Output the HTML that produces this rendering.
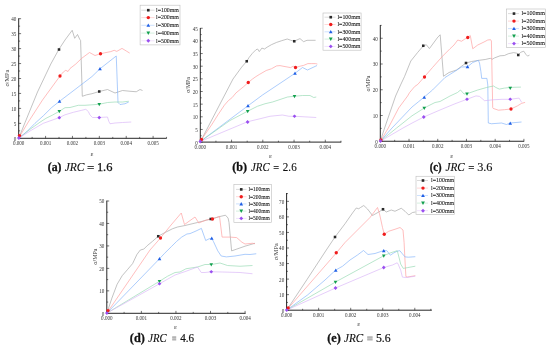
<!DOCTYPE html>
<html><head><meta charset="utf-8"><title>Stress-strain curves</title>
<style>
html,body{margin:0;padding:0;background:#fff;}
body{width:550px;height:348px;overflow:hidden;}
svg{display:block;filter:blur(0.35px);}
.tk{font-family:"Liberation Serif",serif;fill:#333;}
.yl{font-family:"Liberation Serif",serif;fill:#333;}
.lg{font-family:"Liberation Serif",serif;fill:#1a1a1a;stroke:#1a1a1a;stroke-width:0.1px;}
.cap{font-family:"Liberation Serif",serif;font-size:12.6px;fill:#111;}
</style></head>
<body>
<svg width="550" height="348" viewBox="0 0 550 348">
<rect width="550" height="348" fill="#fff"/>
<line x1="18.70" y1="18.30" x2="18.70" y2="138.70" stroke="#1a1a1a" stroke-width="0.95"/>
<line x1="18.25" y1="138.30" x2="166.70" y2="138.30" stroke="#1a1a1a" stroke-width="0.95"/>
<line x1="18.70" y1="138.30" x2="21.10" y2="138.30" stroke="#1a1a1a" stroke-width="0.6"/>
<text x="16.30" y="140.70" text-anchor="end" class="tk" font-size="5.9" textLength="2.55" lengthAdjust="spacingAndGlyphs">0</text>
<line x1="18.70" y1="130.83" x2="20.10" y2="130.83" stroke="#1a1a1a" stroke-width="0.6"/>
<line x1="18.70" y1="123.35" x2="21.10" y2="123.35" stroke="#1a1a1a" stroke-width="0.6"/>
<text x="16.30" y="125.75" text-anchor="end" class="tk" font-size="5.9" textLength="2.55" lengthAdjust="spacingAndGlyphs">5</text>
<line x1="18.70" y1="115.88" x2="20.10" y2="115.88" stroke="#1a1a1a" stroke-width="0.6"/>
<line x1="18.70" y1="108.40" x2="21.10" y2="108.40" stroke="#1a1a1a" stroke-width="0.6"/>
<text x="16.30" y="110.80" text-anchor="end" class="tk" font-size="5.9" textLength="5.10" lengthAdjust="spacingAndGlyphs">10</text>
<line x1="18.70" y1="100.93" x2="20.10" y2="100.93" stroke="#1a1a1a" stroke-width="0.6"/>
<line x1="18.70" y1="93.45" x2="21.10" y2="93.45" stroke="#1a1a1a" stroke-width="0.6"/>
<text x="16.30" y="95.85" text-anchor="end" class="tk" font-size="5.9" textLength="5.10" lengthAdjust="spacingAndGlyphs">15</text>
<line x1="18.70" y1="85.98" x2="20.10" y2="85.98" stroke="#1a1a1a" stroke-width="0.6"/>
<line x1="18.70" y1="78.50" x2="21.10" y2="78.50" stroke="#1a1a1a" stroke-width="0.6"/>
<text x="16.30" y="80.90" text-anchor="end" class="tk" font-size="5.9" textLength="5.10" lengthAdjust="spacingAndGlyphs">20</text>
<line x1="18.70" y1="71.03" x2="20.10" y2="71.03" stroke="#1a1a1a" stroke-width="0.6"/>
<line x1="18.70" y1="63.55" x2="21.10" y2="63.55" stroke="#1a1a1a" stroke-width="0.6"/>
<text x="16.30" y="65.95" text-anchor="end" class="tk" font-size="5.9" textLength="5.10" lengthAdjust="spacingAndGlyphs">25</text>
<line x1="18.70" y1="56.08" x2="20.10" y2="56.08" stroke="#1a1a1a" stroke-width="0.6"/>
<line x1="18.70" y1="48.60" x2="21.10" y2="48.60" stroke="#1a1a1a" stroke-width="0.6"/>
<text x="16.30" y="51.00" text-anchor="end" class="tk" font-size="5.9" textLength="5.10" lengthAdjust="spacingAndGlyphs">30</text>
<line x1="18.70" y1="41.12" x2="20.10" y2="41.12" stroke="#1a1a1a" stroke-width="0.6"/>
<line x1="18.70" y1="33.65" x2="21.10" y2="33.65" stroke="#1a1a1a" stroke-width="0.6"/>
<text x="16.30" y="36.05" text-anchor="end" class="tk" font-size="5.9" textLength="5.10" lengthAdjust="spacingAndGlyphs">35</text>
<line x1="18.70" y1="26.17" x2="20.10" y2="26.17" stroke="#1a1a1a" stroke-width="0.6"/>
<line x1="18.70" y1="18.70" x2="21.10" y2="18.70" stroke="#1a1a1a" stroke-width="0.6"/>
<text x="16.30" y="21.10" text-anchor="end" class="tk" font-size="5.9" textLength="5.10" lengthAdjust="spacingAndGlyphs">40</text>
<line x1="18.70" y1="138.30" x2="18.70" y2="135.90" stroke="#1a1a1a" stroke-width="0.6"/>
<text x="13.00" y="145.30" class="tk" font-size="5.90" textLength="11.4" lengthAdjust="spacingAndGlyphs">0.000</text>
<line x1="32.14" y1="138.30" x2="32.14" y2="136.90" stroke="#1a1a1a" stroke-width="0.6"/>
<line x1="45.58" y1="138.30" x2="45.58" y2="135.90" stroke="#1a1a1a" stroke-width="0.6"/>
<text x="39.88" y="145.30" class="tk" font-size="5.90" textLength="11.4" lengthAdjust="spacingAndGlyphs">0.001</text>
<line x1="59.02" y1="138.30" x2="59.02" y2="136.90" stroke="#1a1a1a" stroke-width="0.6"/>
<line x1="72.46" y1="138.30" x2="72.46" y2="135.90" stroke="#1a1a1a" stroke-width="0.6"/>
<text x="66.76" y="145.30" class="tk" font-size="5.90" textLength="11.4" lengthAdjust="spacingAndGlyphs">0.002</text>
<line x1="85.90" y1="138.30" x2="85.90" y2="136.90" stroke="#1a1a1a" stroke-width="0.6"/>
<line x1="99.34" y1="138.30" x2="99.34" y2="135.90" stroke="#1a1a1a" stroke-width="0.6"/>
<text x="93.64" y="145.30" class="tk" font-size="5.90" textLength="11.4" lengthAdjust="spacingAndGlyphs">0.003</text>
<line x1="112.78" y1="138.30" x2="112.78" y2="136.90" stroke="#1a1a1a" stroke-width="0.6"/>
<line x1="126.22" y1="138.30" x2="126.22" y2="135.90" stroke="#1a1a1a" stroke-width="0.6"/>
<text x="120.52" y="145.30" class="tk" font-size="5.90" textLength="11.4" lengthAdjust="spacingAndGlyphs">0.004</text>
<line x1="139.66" y1="138.30" x2="139.66" y2="136.90" stroke="#1a1a1a" stroke-width="0.6"/>
<line x1="153.10" y1="138.30" x2="153.10" y2="135.90" stroke="#1a1a1a" stroke-width="0.6"/>
<text x="147.40" y="145.30" class="tk" font-size="5.90" textLength="11.4" lengthAdjust="spacingAndGlyphs">0.005</text>
<line x1="166.54" y1="138.30" x2="166.54" y2="136.90" stroke="#1a1a1a" stroke-width="0.6"/>
<text transform="translate(8.50,78.10) rotate(-90)" x="-8.50" class="yl" font-size="6.2" textLength="17.00" lengthAdjust="spacingAndGlyphs">σ/MPa</text>
<text x="92.00" y="155.70" text-anchor="middle" class="tk" font-size="6.8">ε</text>
<polyline points="18.70,138.30 25.00,122.60 37.50,92.00 50.80,64.00 58.80,49.50 65.00,40.00 72.20,30.30 74.70,38.30 77.50,34.50 79.70,39.20 80.60,40.50 82.30,96.30 86.70,94.80 92.00,93.70 99.25,91.50 107.50,89.50 115.00,93.00 122.50,90.50 130.00,91.25 136.25,91.75 140.00,89.50 142.50,90.50" fill="none" stroke="#a2a2a2" stroke-width="0.65" stroke-linejoin="round"/>
<polyline points="19.70,136.30 28.30,122.00 42.50,100.00 60.00,76.00 63.30,72.00 65.80,70.30 68.00,71.50 70.00,68.50 75.80,64.00 81.70,58.30 89.50,52.50 95.00,55.50 100.50,53.75 104.70,52.80 110.80,51.60 114.20,50.30 116.80,51.40 122.00,48.40 126.30,51.00 129.70,53.10" fill="none" stroke="#ff9a9a" stroke-width="0.65" stroke-linejoin="round"/>
<polyline points="19.00,138.00 26.70,131.70 35.00,123.30 43.30,115.80 51.70,107.50 59.50,101.30 75.00,89.50 92.00,76.50 100.00,68.75 116.25,56.00 118.00,102.50 120.00,104.50 125.00,103.75 128.75,102.00" fill="none" stroke="#80b2fa" stroke-width="0.65" stroke-linejoin="round"/>
<polyline points="19.00,138.00 30.00,129.30 40.00,122.20 46.00,118.30 52.30,115.20 59.50,111.20 65.00,107.70 70.00,107.50 78.30,105.30 85.00,105.30 92.00,104.80 99.25,104.25 107.50,102.50 115.00,102.00 122.50,102.00 128.75,101.25" fill="none" stroke="#93d9b0" stroke-width="0.65" stroke-linejoin="round"/>
<polyline points="19.00,138.00 31.70,130.00 43.30,123.30 59.50,117.50 65.00,114.80 73.30,112.30 81.70,110.30 85.80,109.30 88.30,111.50 90.00,115.00 92.50,117.50 99.25,117.50 107.50,117.00 108.75,121.25 110.00,123.75 115.00,123.00 122.50,122.50 131.25,122.00" fill="none" stroke="#d8b4f7" stroke-width="0.65" stroke-linejoin="round"/>
<rect x="57.73" y="48.23" width="2.55" height="2.55" fill="#2a2a2a"/>
<rect x="97.97" y="90.22" width="2.55" height="2.55" fill="#2a2a2a"/>
<circle cx="19.50" cy="135.60" r="1.65" fill="#f01c1c"/>
<circle cx="60.00" cy="76.00" r="1.65" fill="#f01c1c"/>
<circle cx="100.50" cy="53.75" r="1.65" fill="#f01c1c"/>
<polygon points="59.50,99.50 61.30,102.74 57.70,102.74" fill="#1f5fe6"/>
<polygon points="100.00,67.10 101.80,70.34 98.20,70.34" fill="#1f5fe6"/>
<polygon points="59.30,113.20 61.10,109.96 57.50,109.96" fill="#12a04e"/>
<polygon points="99.25,106.20 101.05,102.96 97.45,102.96" fill="#12a04e"/>
<polygon points="18.90,136.12 20.77,138.00 18.90,139.88 17.02,138.00" fill="#9a4ff0"/>
<polygon points="59.30,115.83 61.17,117.70 59.30,119.58 57.42,117.70" fill="#9a4ff0"/>
<polygon points="99.25,115.72 101.12,117.60 99.25,119.47 97.38,117.60" fill="#9a4ff0"/>
<rect x="140.10" y="5.20" width="39.90" height="39.70" fill="#fff" stroke="#bdbdbd" stroke-width="0.6"/>
<line x1="141.30" y1="10.20" x2="154.50" y2="10.20" stroke="#a2a2a2" stroke-width="0.65" stroke-opacity="0.6"/>
<rect x="146.98" y="8.88" width="2.63" height="2.63" fill="#2a2a2a"/>
<text x="156.00" y="12.00" class="lg" font-size="6.5" textLength="22.90" lengthAdjust="spacingAndGlyphs">l=100mm</text>
<line x1="141.30" y1="17.60" x2="154.50" y2="17.60" stroke="#ff9a9a" stroke-width="0.65" stroke-opacity="0.6"/>
<circle cx="148.30" cy="17.60" r="1.71" fill="#f01c1c"/>
<text x="156.00" y="19.40" class="lg" font-size="6.5" textLength="22.90" lengthAdjust="spacingAndGlyphs">l=200mm</text>
<line x1="141.30" y1="25.30" x2="154.50" y2="25.30" stroke="#80b2fa" stroke-width="0.65" stroke-opacity="0.6"/>
<polygon points="148.30,23.44 150.16,26.79 146.44,26.79" fill="#1f5fe6"/>
<text x="156.00" y="27.10" class="lg" font-size="6.5" textLength="22.90" lengthAdjust="spacingAndGlyphs">l=300mm</text>
<line x1="141.30" y1="33.10" x2="154.50" y2="33.10" stroke="#93d9b0" stroke-width="0.65" stroke-opacity="0.6"/>
<polygon points="148.30,34.96 150.16,31.61 146.44,31.61" fill="#12a04e"/>
<text x="156.00" y="34.90" class="lg" font-size="6.5" textLength="22.90" lengthAdjust="spacingAndGlyphs">l=400mm</text>
<line x1="141.30" y1="40.80" x2="154.50" y2="40.80" stroke="#d8b4f7" stroke-width="0.65" stroke-opacity="0.6"/>
<polygon points="148.30,38.86 150.24,40.80 148.30,42.74 146.36,40.80" fill="#9a4ff0"/>
<text x="156.00" y="42.60" class="lg" font-size="6.5" textLength="22.90" lengthAdjust="spacingAndGlyphs">l=500mm</text>
<text x="47.82" y="171.10" class="cap" font-weight="bold" style="fill:#111;stroke:#111;stroke-width:0.30px" textLength="13.68" lengthAdjust="spacingAndGlyphs">(a)</text>
<text x="64.66" y="171.10" class="cap" font-style="italic" style="fill:#111;stroke:#111;stroke-width:0.15px" textLength="19.82" lengthAdjust="spacingAndGlyphs">JRC</text>
<text x="87.14" y="171.90" class="cap"  style="fill:#111;stroke:#111;stroke-width:0.15px" textLength="7.38" lengthAdjust="spacingAndGlyphs">=</text>
<text x="96.90" y="171.10" class="cap"  style="fill:#111;stroke:#111;stroke-width:0.25px" textLength="15.58" lengthAdjust="spacingAndGlyphs">1.6</text>
<line x1="200.30" y1="28.00" x2="200.30" y2="142.50" stroke="#1a1a1a" stroke-width="0.95"/>
<line x1="199.85" y1="142.10" x2="341.30" y2="142.10" stroke="#1a1a1a" stroke-width="0.95"/>
<line x1="200.30" y1="142.10" x2="202.70" y2="142.10" stroke="#1a1a1a" stroke-width="0.6"/>
<text x="197.90" y="144.50" text-anchor="end" class="tk" font-size="5.9" textLength="2.55" lengthAdjust="spacingAndGlyphs">0</text>
<line x1="200.30" y1="135.78" x2="201.70" y2="135.78" stroke="#1a1a1a" stroke-width="0.6"/>
<line x1="200.30" y1="129.45" x2="202.70" y2="129.45" stroke="#1a1a1a" stroke-width="0.6"/>
<text x="197.90" y="131.85" text-anchor="end" class="tk" font-size="5.9" textLength="2.55" lengthAdjust="spacingAndGlyphs">5</text>
<line x1="200.30" y1="123.12" x2="201.70" y2="123.12" stroke="#1a1a1a" stroke-width="0.6"/>
<line x1="200.30" y1="116.80" x2="202.70" y2="116.80" stroke="#1a1a1a" stroke-width="0.6"/>
<text x="197.90" y="119.20" text-anchor="end" class="tk" font-size="5.9" textLength="5.10" lengthAdjust="spacingAndGlyphs">10</text>
<line x1="200.30" y1="110.47" x2="201.70" y2="110.47" stroke="#1a1a1a" stroke-width="0.6"/>
<line x1="200.30" y1="104.15" x2="202.70" y2="104.15" stroke="#1a1a1a" stroke-width="0.6"/>
<text x="197.90" y="106.55" text-anchor="end" class="tk" font-size="5.9" textLength="5.10" lengthAdjust="spacingAndGlyphs">15</text>
<line x1="200.30" y1="97.82" x2="201.70" y2="97.82" stroke="#1a1a1a" stroke-width="0.6"/>
<line x1="200.30" y1="91.50" x2="202.70" y2="91.50" stroke="#1a1a1a" stroke-width="0.6"/>
<text x="197.90" y="93.90" text-anchor="end" class="tk" font-size="5.9" textLength="5.10" lengthAdjust="spacingAndGlyphs">20</text>
<line x1="200.30" y1="85.17" x2="201.70" y2="85.17" stroke="#1a1a1a" stroke-width="0.6"/>
<line x1="200.30" y1="78.85" x2="202.70" y2="78.85" stroke="#1a1a1a" stroke-width="0.6"/>
<text x="197.90" y="81.25" text-anchor="end" class="tk" font-size="5.9" textLength="5.10" lengthAdjust="spacingAndGlyphs">25</text>
<line x1="200.30" y1="72.53" x2="201.70" y2="72.53" stroke="#1a1a1a" stroke-width="0.6"/>
<line x1="200.30" y1="66.20" x2="202.70" y2="66.20" stroke="#1a1a1a" stroke-width="0.6"/>
<text x="197.90" y="68.60" text-anchor="end" class="tk" font-size="5.9" textLength="5.10" lengthAdjust="spacingAndGlyphs">30</text>
<line x1="200.30" y1="59.88" x2="201.70" y2="59.88" stroke="#1a1a1a" stroke-width="0.6"/>
<line x1="200.30" y1="53.55" x2="202.70" y2="53.55" stroke="#1a1a1a" stroke-width="0.6"/>
<text x="197.90" y="55.95" text-anchor="end" class="tk" font-size="5.9" textLength="5.10" lengthAdjust="spacingAndGlyphs">35</text>
<line x1="200.30" y1="47.23" x2="201.70" y2="47.23" stroke="#1a1a1a" stroke-width="0.6"/>
<line x1="200.30" y1="40.90" x2="202.70" y2="40.90" stroke="#1a1a1a" stroke-width="0.6"/>
<text x="197.90" y="43.30" text-anchor="end" class="tk" font-size="5.9" textLength="5.10" lengthAdjust="spacingAndGlyphs">40</text>
<line x1="200.30" y1="34.58" x2="201.70" y2="34.58" stroke="#1a1a1a" stroke-width="0.6"/>
<line x1="200.30" y1="28.25" x2="202.70" y2="28.25" stroke="#1a1a1a" stroke-width="0.6"/>
<text x="197.90" y="30.65" text-anchor="end" class="tk" font-size="5.9" textLength="5.10" lengthAdjust="spacingAndGlyphs">45</text>
<line x1="200.30" y1="142.10" x2="200.30" y2="139.70" stroke="#1a1a1a" stroke-width="0.6"/>
<text x="194.60" y="148.60" class="tk" font-size="5.90" textLength="11.4" lengthAdjust="spacingAndGlyphs">0.000</text>
<line x1="215.93" y1="142.10" x2="215.93" y2="140.70" stroke="#1a1a1a" stroke-width="0.6"/>
<line x1="231.55" y1="142.10" x2="231.55" y2="139.70" stroke="#1a1a1a" stroke-width="0.6"/>
<text x="225.85" y="148.60" class="tk" font-size="5.90" textLength="11.4" lengthAdjust="spacingAndGlyphs">0.001</text>
<line x1="247.18" y1="142.10" x2="247.18" y2="140.70" stroke="#1a1a1a" stroke-width="0.6"/>
<line x1="262.80" y1="142.10" x2="262.80" y2="139.70" stroke="#1a1a1a" stroke-width="0.6"/>
<text x="257.10" y="148.60" class="tk" font-size="5.90" textLength="11.4" lengthAdjust="spacingAndGlyphs">0.002</text>
<line x1="278.43" y1="142.10" x2="278.43" y2="140.70" stroke="#1a1a1a" stroke-width="0.6"/>
<line x1="294.05" y1="142.10" x2="294.05" y2="139.70" stroke="#1a1a1a" stroke-width="0.6"/>
<text x="288.35" y="148.60" class="tk" font-size="5.90" textLength="11.4" lengthAdjust="spacingAndGlyphs">0.003</text>
<line x1="309.68" y1="142.10" x2="309.68" y2="140.70" stroke="#1a1a1a" stroke-width="0.6"/>
<line x1="325.30" y1="142.10" x2="325.30" y2="139.70" stroke="#1a1a1a" stroke-width="0.6"/>
<text x="319.60" y="148.60" class="tk" font-size="5.90" textLength="11.4" lengthAdjust="spacingAndGlyphs">0.004</text>
<line x1="340.93" y1="142.10" x2="340.93" y2="140.70" stroke="#1a1a1a" stroke-width="0.6"/>
<text transform="translate(189.70,85.00) rotate(-90)" x="-7.75" class="yl" font-size="6.2" textLength="15.50" lengthAdjust="spacingAndGlyphs">σ/MPa</text>
<text x="270.50" y="158.20" text-anchor="middle" class="tk" font-size="6.8">ε</text>
<polyline points="200.30,141.90 233.00,79.00 241.70,67.10 246.75,61.25 249.00,57.60 252.40,53.30 255.90,49.80 257.60,49.00 259.30,51.60 261.90,48.10 264.50,49.00 267.10,47.20 271.40,44.70 276.60,42.40 281.70,40.70 287.20,39.00 290.60,40.20 294.00,41.25 300.00,38.60 303.60,41.70 307.00,40.30 315.60,40.30" fill="none" stroke="#a2a2a2" stroke-width="0.65" stroke-linejoin="round"/>
<polyline points="200.80,140.50 211.50,125.00 217.90,114.90 224.40,105.20 228.30,100.70 232.20,97.50 236.00,92.90 239.90,89.70 243.80,86.50 248.25,82.50 252.40,79.10 255.90,76.60 259.30,74.50 266.20,70.50 271.40,68.80 276.60,65.90 280.00,65.60 284.00,66.40 290.70,67.60 293.20,66.20 295.50,67.40 300.10,66.20 303.60,65.40 307.90,63.60 311.30,63.60 315.60,63.60 317.40,64.10" fill="none" stroke="#ff9a9a" stroke-width="0.65" stroke-linejoin="round"/>
<polyline points="200.30,141.50 248.00,105.75 262.50,95.00 285.00,80.00 295.00,73.25 302.50,67.50 307.50,70.00 317.00,65.50" fill="none" stroke="#80b2fa" stroke-width="0.65" stroke-linejoin="round"/>
<polyline points="200.30,141.50 230.00,120.50 247.50,111.25 257.50,106.25 265.00,103.75 272.50,102.00 280.00,99.50 287.50,97.00 294.50,96.25 302.50,95.50 310.00,95.50 313.75,97.50 316.25,97.00" fill="none" stroke="#93d9b0" stroke-width="0.65" stroke-linejoin="round"/>
<polyline points="200.30,141.50 247.50,121.75 260.00,118.75 270.00,116.25 282.50,115.00 288.75,116.25 294.50,116.25 316.25,117.50" fill="none" stroke="#d8b4f7" stroke-width="0.65" stroke-linejoin="round"/>
<rect x="245.47" y="59.98" width="2.55" height="2.55" fill="#2a2a2a"/>
<rect x="292.98" y="39.98" width="2.55" height="2.55" fill="#2a2a2a"/>
<circle cx="201.50" cy="139.40" r="1.65" fill="#f01c1c"/>
<circle cx="248.25" cy="82.50" r="1.65" fill="#f01c1c"/>
<circle cx="295.50" cy="67.50" r="1.65" fill="#f01c1c"/>
<polygon points="248.00,104.10 249.80,107.34 246.20,107.34" fill="#1f5fe6"/>
<polygon points="295.00,71.60 296.80,74.84 293.20,74.84" fill="#1f5fe6"/>
<polygon points="247.70,113.20 249.50,109.96 245.90,109.96" fill="#12a04e"/>
<polygon points="294.50,98.20 296.30,94.96 292.70,94.96" fill="#12a04e"/>
<polygon points="200.30,139.62 202.18,141.50 200.30,143.38 198.43,141.50" fill="#9a4ff0"/>
<polygon points="247.60,120.12 249.47,122.00 247.60,123.88 245.72,122.00" fill="#9a4ff0"/>
<polygon points="294.50,114.38 296.38,116.25 294.50,118.12 292.62,116.25" fill="#9a4ff0"/>
<rect x="323.00" y="13.00" width="38.10" height="37.20" fill="#fff" stroke="#bdbdbd" stroke-width="0.6"/>
<line x1="324.50" y1="17.20" x2="335.50" y2="17.20" stroke="#a2a2a2" stroke-width="0.65" stroke-opacity="0.6"/>
<rect x="329.43" y="15.88" width="2.63" height="2.63" fill="#2a2a2a"/>
<text x="337.40" y="19.00" class="lg" font-size="6.5" textLength="23.10" lengthAdjust="spacingAndGlyphs">l=100mm</text>
<line x1="324.50" y1="24.50" x2="335.50" y2="24.50" stroke="#ff9a9a" stroke-width="0.65" stroke-opacity="0.6"/>
<circle cx="330.75" cy="24.50" r="1.71" fill="#f01c1c"/>
<text x="337.40" y="26.30" class="lg" font-size="6.5" textLength="23.10" lengthAdjust="spacingAndGlyphs">l=200mm</text>
<line x1="324.50" y1="31.80" x2="335.50" y2="31.80" stroke="#80b2fa" stroke-width="0.65" stroke-opacity="0.6"/>
<polygon points="330.75,29.94 332.61,33.29 328.89,33.29" fill="#1f5fe6"/>
<text x="337.40" y="33.60" class="lg" font-size="6.5" textLength="23.10" lengthAdjust="spacingAndGlyphs">l=300mm</text>
<line x1="324.50" y1="39.10" x2="335.50" y2="39.10" stroke="#93d9b0" stroke-width="0.65" stroke-opacity="0.6"/>
<polygon points="330.75,40.96 332.61,37.61 328.89,37.61" fill="#12a04e"/>
<text x="337.40" y="40.90" class="lg" font-size="6.5" textLength="23.10" lengthAdjust="spacingAndGlyphs">l=400mm</text>
<line x1="324.50" y1="46.40" x2="335.50" y2="46.40" stroke="#d8b4f7" stroke-width="0.65" stroke-opacity="0.6"/>
<polygon points="330.75,44.46 332.69,46.40 330.75,48.34 328.81,46.40" fill="#9a4ff0"/>
<text x="337.40" y="48.20" class="lg" font-size="6.5" textLength="23.10" lengthAdjust="spacingAndGlyphs">l=500mm</text>
<text x="232.16" y="171.20" class="cap" font-weight="bold" style="fill:#111;stroke:#111;stroke-width:0.30px" textLength="14.84" lengthAdjust="spacingAndGlyphs">(b)</text>
<text x="251.02" y="171.20" class="cap" font-style="italic" style="fill:#111;stroke:#111;stroke-width:0.15px" textLength="18.62" lengthAdjust="spacingAndGlyphs">JRC</text>
<text x="273.34" y="172.00" class="cap"  style="fill:#111;stroke:#111;stroke-width:0.15px" textLength="5.84" lengthAdjust="spacingAndGlyphs">=</text>
<text x="282.84" y="171.20" class="cap"  style="fill:#111;stroke:#111;stroke-width:0.15px" textLength="13.84" lengthAdjust="spacingAndGlyphs">2.6</text>
<line x1="380.30" y1="25.00" x2="380.30" y2="141.65" stroke="#1a1a1a" stroke-width="0.95"/>
<line x1="379.85" y1="141.25" x2="524.20" y2="141.25" stroke="#1a1a1a" stroke-width="0.95"/>
<line x1="380.30" y1="141.25" x2="382.70" y2="141.25" stroke="#1a1a1a" stroke-width="0.6"/>
<text x="377.90" y="143.65" text-anchor="end" class="tk" font-size="5.9" textLength="2.55" lengthAdjust="spacingAndGlyphs">0</text>
<line x1="380.30" y1="128.38" x2="381.70" y2="128.38" stroke="#1a1a1a" stroke-width="0.6"/>
<line x1="380.30" y1="115.50" x2="382.70" y2="115.50" stroke="#1a1a1a" stroke-width="0.6"/>
<text x="377.90" y="117.90" text-anchor="end" class="tk" font-size="5.9" textLength="5.10" lengthAdjust="spacingAndGlyphs">10</text>
<line x1="380.30" y1="102.62" x2="381.70" y2="102.62" stroke="#1a1a1a" stroke-width="0.6"/>
<line x1="380.30" y1="89.75" x2="382.70" y2="89.75" stroke="#1a1a1a" stroke-width="0.6"/>
<text x="377.90" y="92.15" text-anchor="end" class="tk" font-size="5.9" textLength="5.10" lengthAdjust="spacingAndGlyphs">20</text>
<line x1="380.30" y1="76.88" x2="381.70" y2="76.88" stroke="#1a1a1a" stroke-width="0.6"/>
<line x1="380.30" y1="64.00" x2="382.70" y2="64.00" stroke="#1a1a1a" stroke-width="0.6"/>
<text x="377.90" y="66.40" text-anchor="end" class="tk" font-size="5.9" textLength="5.10" lengthAdjust="spacingAndGlyphs">30</text>
<line x1="380.30" y1="51.12" x2="381.70" y2="51.12" stroke="#1a1a1a" stroke-width="0.6"/>
<line x1="380.30" y1="38.25" x2="382.70" y2="38.25" stroke="#1a1a1a" stroke-width="0.6"/>
<text x="377.90" y="40.65" text-anchor="end" class="tk" font-size="5.9" textLength="5.10" lengthAdjust="spacingAndGlyphs">40</text>
<line x1="380.30" y1="25.37" x2="381.70" y2="25.37" stroke="#1a1a1a" stroke-width="0.6"/>
<line x1="380.30" y1="141.25" x2="380.30" y2="138.85" stroke="#1a1a1a" stroke-width="0.6"/>
<text x="374.60" y="148.10" class="tk" font-size="5.90" textLength="11.4" lengthAdjust="spacingAndGlyphs">0.000</text>
<line x1="394.66" y1="141.25" x2="394.66" y2="139.85" stroke="#1a1a1a" stroke-width="0.6"/>
<line x1="409.02" y1="141.25" x2="409.02" y2="138.85" stroke="#1a1a1a" stroke-width="0.6"/>
<text x="403.32" y="148.10" class="tk" font-size="5.90" textLength="11.4" lengthAdjust="spacingAndGlyphs">0.001</text>
<line x1="423.38" y1="141.25" x2="423.38" y2="139.85" stroke="#1a1a1a" stroke-width="0.6"/>
<line x1="437.74" y1="141.25" x2="437.74" y2="138.85" stroke="#1a1a1a" stroke-width="0.6"/>
<text x="432.04" y="148.10" class="tk" font-size="5.90" textLength="11.4" lengthAdjust="spacingAndGlyphs">0.002</text>
<line x1="452.10" y1="141.25" x2="452.10" y2="139.85" stroke="#1a1a1a" stroke-width="0.6"/>
<line x1="466.46" y1="141.25" x2="466.46" y2="138.85" stroke="#1a1a1a" stroke-width="0.6"/>
<text x="460.76" y="148.10" class="tk" font-size="5.90" textLength="11.4" lengthAdjust="spacingAndGlyphs">0.003</text>
<line x1="480.82" y1="141.25" x2="480.82" y2="139.85" stroke="#1a1a1a" stroke-width="0.6"/>
<line x1="495.18" y1="141.25" x2="495.18" y2="138.85" stroke="#1a1a1a" stroke-width="0.6"/>
<text x="489.48" y="148.10" class="tk" font-size="5.90" textLength="11.4" lengthAdjust="spacingAndGlyphs">0.004</text>
<line x1="509.54" y1="141.25" x2="509.54" y2="139.85" stroke="#1a1a1a" stroke-width="0.6"/>
<line x1="523.90" y1="141.25" x2="523.90" y2="138.85" stroke="#1a1a1a" stroke-width="0.6"/>
<text x="518.20" y="148.10" class="tk" font-size="5.90" textLength="11.4" lengthAdjust="spacingAndGlyphs">0.005</text>
<text transform="translate(370.20,83.50) rotate(-90)" x="-8.00" class="yl" font-size="6.2" textLength="16.00" lengthAdjust="spacingAndGlyphs">σ/MPa</text>
<text x="451.80" y="158.00" text-anchor="middle" class="tk" font-size="6.8">ε</text>
<polyline points="380.30,141.25 384.60,128.00 395.60,96.00 401.00,84.00 404.50,76.60 410.80,61.00 417.70,52.40 423.20,46.00 426.30,44.70 429.40,48.60 438.00,36.90 440.20,34.80 443.50,76.25 449.00,72.50 456.50,70.00 461.50,66.25 466.00,63.00 471.50,61.50 479.00,60.30 485.20,59.50 490.30,58.30 492.30,59.20 494.30,58.00 500.00,55.80 504.40,55.50 508.70,53.60 513.70,52.60 516.60,53.20 518.30,54.70 520.90,52.20 523.80,51.20 525.90,54.40 527.60,56.10 529.50,55.10" fill="none" stroke="#a2a2a2" stroke-width="0.65" stroke-linejoin="round"/>
<polyline points="380.30,141.25 388.30,128.00 398.70,108.00 407.60,96.00 409.50,92.70 414.70,86.50 417.80,84.40 424.50,76.70 428.60,72.00 432.50,67.50 442.50,56.25 450.00,48.75 454.00,45.00 457.75,40.00 461.50,41.25 465.25,38.75 467.75,37.50 470.25,35.50 472.75,48.75 477.75,45.00 484.00,42.00 487.75,40.00 490.60,39.70 491.40,41.00 492.70,107.60 493.20,108.40 498.40,110.20 504.40,109.70 511.00,109.00 517.40,105.90 521.70,103.30 525.10,102.40" fill="none" stroke="#ff9a9a" stroke-width="0.65" stroke-linejoin="round"/>
<polyline points="380.30,141.25 392.00,128.00 412.00,107.00 418.80,101.50 424.25,97.00 432.50,90.00 442.50,80.00 445.00,77.50 455.00,71.25 461.50,67.00 467.50,66.75 472.75,62.50 478.30,60.30 479.50,63.00 480.90,71.60 481.70,78.40 486.90,78.40 487.80,85.00 488.30,123.00 491.50,123.75 501.50,123.00 506.50,124.50 510.25,123.00 521.50,122.00" fill="none" stroke="#80b2fa" stroke-width="0.65" stroke-linejoin="round"/>
<polyline points="380.30,141.25 396.60,128.00 412.00,115.80 424.25,108.00 430.00,105.00 435.00,102.50 440.00,101.50 450.00,96.00 457.50,92.50 460.50,90.00 464.00,94.00 467.00,93.75 477.75,90.00 486.50,87.50 490.00,86.70 493.60,86.00 495.70,87.40 499.30,89.10 504.40,88.10 510.50,87.40 520.90,87.10" fill="none" stroke="#93d9b0" stroke-width="0.65" stroke-linejoin="round"/>
<polyline points="380.30,141.25 403.00,128.00 412.00,123.10 423.75,117.00 440.00,110.00 455.00,103.75 467.00,99.25 476.00,95.90 479.50,96.40 484.60,100.70 493.20,99.80 502.00,99.30 510.00,99.30 519.10,98.10 521.70,102.40" fill="none" stroke="#d8b4f7" stroke-width="0.65" stroke-linejoin="round"/>
<rect x="421.98" y="44.48" width="2.55" height="2.55" fill="#2a2a2a"/>
<rect x="464.73" y="61.73" width="2.55" height="2.55" fill="#2a2a2a"/>
<rect x="516.98" y="53.73" width="2.55" height="2.55" fill="#2a2a2a"/>
<circle cx="381.00" cy="140.00" r="1.65" fill="#f01c1c"/>
<circle cx="424.50" cy="77.00" r="1.65" fill="#f01c1c"/>
<circle cx="467.75" cy="37.50" r="1.65" fill="#f01c1c"/>
<circle cx="511.00" cy="109.00" r="1.65" fill="#f01c1c"/>
<polygon points="424.25,95.40 426.05,98.64 422.45,98.64" fill="#1f5fe6"/>
<polygon points="467.50,65.10 469.30,68.34 465.70,68.34" fill="#1f5fe6"/>
<polygon points="510.25,121.40 512.05,124.64 508.45,124.64" fill="#1f5fe6"/>
<polygon points="424.25,110.00 426.05,106.76 422.45,106.76" fill="#12a04e"/>
<polygon points="467.00,95.70 468.80,92.46 465.20,92.46" fill="#12a04e"/>
<polygon points="510.25,90.00 512.05,86.76 508.45,86.76" fill="#12a04e"/>
<polygon points="380.50,139.12 382.38,141.00 380.50,142.88 378.62,141.00" fill="#9a4ff0"/>
<polygon points="423.75,115.12 425.62,117.00 423.75,118.88 421.88,117.00" fill="#9a4ff0"/>
<polygon points="467.00,97.38 468.88,99.25 467.00,101.12 465.12,99.25" fill="#9a4ff0"/>
<polygon points="510.25,97.38 512.12,99.25 510.25,101.12 508.38,99.25" fill="#9a4ff0"/>
<rect x="506.50" y="9.00" width="39.00" height="38.40" fill="#fff" stroke="#bdbdbd" stroke-width="0.6"/>
<line x1="508.00" y1="13.60" x2="519.00" y2="13.60" stroke="#a2a2a2" stroke-width="0.65" stroke-opacity="0.6"/>
<rect x="512.68" y="12.28" width="2.63" height="2.63" fill="#2a2a2a"/>
<text x="521.40" y="15.40" class="lg" font-size="6.5" textLength="23.60" lengthAdjust="spacingAndGlyphs">l=100mm</text>
<line x1="508.00" y1="21.10" x2="519.00" y2="21.10" stroke="#ff9a9a" stroke-width="0.65" stroke-opacity="0.6"/>
<circle cx="514.00" cy="21.10" r="1.71" fill="#f01c1c"/>
<text x="521.40" y="22.90" class="lg" font-size="6.5" textLength="23.60" lengthAdjust="spacingAndGlyphs">l=200mm</text>
<line x1="508.00" y1="28.60" x2="519.00" y2="28.60" stroke="#80b2fa" stroke-width="0.65" stroke-opacity="0.6"/>
<polygon points="514.00,26.74 515.86,30.09 512.14,30.09" fill="#1f5fe6"/>
<text x="521.40" y="30.40" class="lg" font-size="6.5" textLength="23.60" lengthAdjust="spacingAndGlyphs">l=300mm</text>
<line x1="508.00" y1="36.10" x2="519.00" y2="36.10" stroke="#93d9b0" stroke-width="0.65" stroke-opacity="0.6"/>
<polygon points="514.00,37.96 515.86,34.61 512.14,34.61" fill="#12a04e"/>
<text x="521.40" y="37.90" class="lg" font-size="6.5" textLength="23.60" lengthAdjust="spacingAndGlyphs">l=400mm</text>
<line x1="508.00" y1="43.60" x2="519.00" y2="43.60" stroke="#d8b4f7" stroke-width="0.65" stroke-opacity="0.6"/>
<polygon points="514.00,41.66 515.94,43.60 514.00,45.54 512.06,43.60" fill="#9a4ff0"/>
<text x="521.40" y="45.40" class="lg" font-size="6.5" textLength="23.60" lengthAdjust="spacingAndGlyphs">l=500mm</text>
<text x="429.66" y="171.20" class="cap" font-weight="bold" style="fill:#111;stroke:#111;stroke-width:0.30px" textLength="12.00" lengthAdjust="spacingAndGlyphs">(c)</text>
<text x="445.52" y="171.20" class="cap" font-style="italic" style="fill:#111;stroke:#111;stroke-width:0.15px" textLength="19.30" lengthAdjust="spacingAndGlyphs">JRC</text>
<text x="468.34" y="172.00" class="cap"  style="fill:#111;stroke:#111;stroke-width:0.15px" textLength="6.18" lengthAdjust="spacingAndGlyphs">=</text>
<text x="477.16" y="171.20" class="cap"  style="fill:#111;stroke:#111;stroke-width:0.15px" textLength="15.36" lengthAdjust="spacingAndGlyphs">3.6</text>
<line x1="106.80" y1="200.60" x2="106.80" y2="313.70" stroke="#1a1a1a" stroke-width="0.95"/>
<line x1="106.35" y1="313.30" x2="245.60" y2="313.30" stroke="#1a1a1a" stroke-width="0.95"/>
<line x1="106.80" y1="313.30" x2="109.20" y2="313.30" stroke="#1a1a1a" stroke-width="0.6"/>
<text x="104.40" y="315.70" text-anchor="end" class="tk" font-size="5.9" textLength="2.55" lengthAdjust="spacingAndGlyphs">0</text>
<line x1="106.80" y1="302.07" x2="108.20" y2="302.07" stroke="#1a1a1a" stroke-width="0.6"/>
<line x1="106.80" y1="290.84" x2="109.20" y2="290.84" stroke="#1a1a1a" stroke-width="0.6"/>
<text x="104.40" y="293.24" text-anchor="end" class="tk" font-size="5.9" textLength="5.10" lengthAdjust="spacingAndGlyphs">10</text>
<line x1="106.80" y1="279.61" x2="108.20" y2="279.61" stroke="#1a1a1a" stroke-width="0.6"/>
<line x1="106.80" y1="268.38" x2="109.20" y2="268.38" stroke="#1a1a1a" stroke-width="0.6"/>
<text x="104.40" y="270.78" text-anchor="end" class="tk" font-size="5.9" textLength="5.10" lengthAdjust="spacingAndGlyphs">20</text>
<line x1="106.80" y1="257.15" x2="108.20" y2="257.15" stroke="#1a1a1a" stroke-width="0.6"/>
<line x1="106.80" y1="245.92" x2="109.20" y2="245.92" stroke="#1a1a1a" stroke-width="0.6"/>
<text x="104.40" y="248.32" text-anchor="end" class="tk" font-size="5.9" textLength="5.10" lengthAdjust="spacingAndGlyphs">30</text>
<line x1="106.80" y1="234.69" x2="108.20" y2="234.69" stroke="#1a1a1a" stroke-width="0.6"/>
<line x1="106.80" y1="223.46" x2="109.20" y2="223.46" stroke="#1a1a1a" stroke-width="0.6"/>
<text x="104.40" y="225.86" text-anchor="end" class="tk" font-size="5.9" textLength="5.10" lengthAdjust="spacingAndGlyphs">40</text>
<line x1="106.80" y1="212.23" x2="108.20" y2="212.23" stroke="#1a1a1a" stroke-width="0.6"/>
<line x1="106.80" y1="201.00" x2="109.20" y2="201.00" stroke="#1a1a1a" stroke-width="0.6"/>
<text x="104.40" y="203.40" text-anchor="end" class="tk" font-size="5.9" textLength="5.10" lengthAdjust="spacingAndGlyphs">50</text>
<line x1="106.80" y1="313.30" x2="106.80" y2="310.90" stroke="#1a1a1a" stroke-width="0.6"/>
<text x="101.10" y="319.90" class="tk" font-size="5.90" textLength="11.4" lengthAdjust="spacingAndGlyphs">0.000</text>
<line x1="124.08" y1="313.30" x2="124.08" y2="311.90" stroke="#1a1a1a" stroke-width="0.6"/>
<line x1="141.37" y1="313.30" x2="141.37" y2="310.90" stroke="#1a1a1a" stroke-width="0.6"/>
<text x="135.67" y="319.90" class="tk" font-size="5.90" textLength="11.4" lengthAdjust="spacingAndGlyphs">0.001</text>
<line x1="158.66" y1="313.30" x2="158.66" y2="311.90" stroke="#1a1a1a" stroke-width="0.6"/>
<line x1="175.94" y1="313.30" x2="175.94" y2="310.90" stroke="#1a1a1a" stroke-width="0.6"/>
<text x="170.24" y="319.90" class="tk" font-size="5.90" textLength="11.4" lengthAdjust="spacingAndGlyphs">0.002</text>
<line x1="193.22" y1="313.30" x2="193.22" y2="311.90" stroke="#1a1a1a" stroke-width="0.6"/>
<line x1="210.51" y1="313.30" x2="210.51" y2="310.90" stroke="#1a1a1a" stroke-width="0.6"/>
<text x="204.81" y="319.90" class="tk" font-size="5.90" textLength="11.4" lengthAdjust="spacingAndGlyphs">0.003</text>
<line x1="227.80" y1="313.30" x2="227.80" y2="311.90" stroke="#1a1a1a" stroke-width="0.6"/>
<line x1="245.08" y1="313.30" x2="245.08" y2="310.90" stroke="#1a1a1a" stroke-width="0.6"/>
<text x="239.38" y="319.90" class="tk" font-size="5.90" textLength="11.4" lengthAdjust="spacingAndGlyphs">0.004</text>
<text transform="translate(97.20,256.70) rotate(-90)" x="-8.00" class="yl" font-size="6.2" textLength="16.00" lengthAdjust="spacingAndGlyphs">σ/MPa</text>
<text x="175.50" y="329.30" text-anchor="middle" class="tk" font-size="6.8">ε</text>
<polyline points="106.90,313.10 111.90,298.10 117.10,284.30 122.20,275.70 127.40,269.70 132.60,263.60 136.90,254.50 140.30,250.00 143.80,249.10 147.20,245.70 152.40,241.40 158.25,236.25 165.00,232.50 172.50,228.75 177.50,227.00 185.00,225.50 197.50,222.50 210.75,219.00 220.00,216.50 225.50,215.20 228.10,218.10 229.00,222.40 231.60,250.90 236.70,249.10 245.00,246.20 255.00,243.25" fill="none" stroke="#a2a2a2" stroke-width="0.65" stroke-linejoin="round"/>
<polyline points="107.30,312.40 150.00,250.00 160.50,238.00 170.00,226.25 181.25,213.00 184.50,224.50 195.00,217.00 198.75,223.00 206.25,220.00 212.50,219.00 219.50,216.40 222.10,237.10 230.20,237.10 236.70,237.60 241.90,242.20 245.00,244.00 252.50,243.25 255.00,243.75" fill="none" stroke="#ff9a9a" stroke-width="0.65" stroke-linejoin="round"/>
<polyline points="106.90,313.10 159.50,258.75 164.50,253.40 171.40,246.60 176.60,241.40 181.70,237.10 186.90,234.00 190.00,233.60 196.00,231.00 201.40,228.40 205.70,240.50 209.10,238.80 211.75,238.50 213.40,241.40 217.80,250.90 221.20,256.00 226.40,256.90 235.00,256.00 245.00,254.30 250.00,254.50 256.25,253.75" fill="none" stroke="#80b2fa" stroke-width="0.65" stroke-linejoin="round"/>
<polyline points="106.90,313.10 159.50,281.25 167.50,276.25 175.00,272.50 180.00,272.00 186.00,268.75 197.50,267.00 205.00,264.50 211.25,264.50 220.00,263.00 227.50,265.50 240.00,266.25 252.50,265.50" fill="none" stroke="#93d9b0" stroke-width="0.65" stroke-linejoin="round"/>
<polyline points="106.90,313.10 159.50,283.75 175.00,275.00 186.00,271.25 197.50,267.00 201.25,272.50 205.00,272.50 211.25,271.75 222.50,272.00 240.00,272.50 252.50,273.75" fill="none" stroke="#d8b4f7" stroke-width="0.65" stroke-linejoin="round"/>
<rect x="156.97" y="234.97" width="2.55" height="2.55" fill="#2a2a2a"/>
<rect x="209.47" y="217.72" width="2.55" height="2.55" fill="#2a2a2a"/>
<circle cx="108.00" cy="310.60" r="1.65" fill="#f01c1c"/>
<circle cx="160.50" cy="238.00" r="1.65" fill="#f01c1c"/>
<circle cx="212.50" cy="219.00" r="1.65" fill="#f01c1c"/>
<polygon points="159.50,257.10 161.30,260.34 157.70,260.34" fill="#1f5fe6"/>
<polygon points="211.75,236.60 213.55,239.84 209.95,239.84" fill="#1f5fe6"/>
<polygon points="159.50,283.20 161.30,279.96 157.70,279.96" fill="#12a04e"/>
<polygon points="211.25,266.40 213.05,263.16 209.45,263.16" fill="#12a04e"/>
<polygon points="106.90,311.23 108.78,313.10 106.90,314.98 105.03,313.10" fill="#9a4ff0"/>
<polygon points="159.50,281.88 161.38,283.75 159.50,285.62 157.62,283.75" fill="#9a4ff0"/>
<polygon points="211.25,269.88 213.12,271.75 211.25,273.62 209.38,271.75" fill="#9a4ff0"/>
<rect x="233.90" y="184.60" width="37.50" height="37.70" fill="#fff" stroke="#bdbdbd" stroke-width="0.6"/>
<line x1="236.00" y1="189.40" x2="246.50" y2="189.40" stroke="#a2a2a2" stroke-width="0.65" stroke-opacity="0.6"/>
<rect x="239.93" y="188.08" width="2.63" height="2.63" fill="#2a2a2a"/>
<text x="248.40" y="191.20" class="lg" font-size="6.5" textLength="21.50" lengthAdjust="spacingAndGlyphs">l=100mm</text>
<line x1="236.00" y1="196.70" x2="246.50" y2="196.70" stroke="#ff9a9a" stroke-width="0.65" stroke-opacity="0.6"/>
<circle cx="241.25" cy="196.70" r="1.71" fill="#f01c1c"/>
<text x="248.40" y="198.50" class="lg" font-size="6.5" textLength="21.50" lengthAdjust="spacingAndGlyphs">l=200mm</text>
<line x1="236.00" y1="203.90" x2="246.50" y2="203.90" stroke="#80b2fa" stroke-width="0.65" stroke-opacity="0.6"/>
<polygon points="241.25,202.04 243.11,205.39 239.39,205.39" fill="#1f5fe6"/>
<text x="248.40" y="205.70" class="lg" font-size="6.5" textLength="21.50" lengthAdjust="spacingAndGlyphs">l=300mm</text>
<line x1="236.00" y1="211.10" x2="246.50" y2="211.10" stroke="#93d9b0" stroke-width="0.65" stroke-opacity="0.6"/>
<polygon points="241.25,212.96 243.11,209.61 239.39,209.61" fill="#12a04e"/>
<text x="248.40" y="212.90" class="lg" font-size="6.5" textLength="21.50" lengthAdjust="spacingAndGlyphs">l=400mm</text>
<line x1="236.00" y1="218.40" x2="246.50" y2="218.40" stroke="#d8b4f7" stroke-width="0.65" stroke-opacity="0.6"/>
<polygon points="241.25,216.46 243.19,218.40 241.25,220.34 239.31,218.40" fill="#9a4ff0"/>
<text x="248.40" y="220.20" class="lg" font-size="6.5" textLength="21.50" lengthAdjust="spacingAndGlyphs">l=500mm</text>
<text x="129.82" y="341.50" class="cap" font-weight="bold" style="fill:#111;stroke:#111;stroke-width:0.30px" textLength="15.02" lengthAdjust="spacingAndGlyphs">(d)</text>
<text x="148.16" y="341.50" class="cap" font-style="italic" style="fill:#111;stroke:#111;stroke-width:0.15px" textLength="18.48" lengthAdjust="spacingAndGlyphs">JRC</text>
<text x="172.20" y="343.00" class="cap"  style="fill:#b4b4b4;stroke:#b4b4b4;stroke-width:1.35px" textLength="3.94" lengthAdjust="spacingAndGlyphs">=</text>
<text x="180.16" y="341.50" class="cap"  style="fill:#111;stroke:#111;stroke-width:0.21px" textLength="13.82" lengthAdjust="spacingAndGlyphs">4.6</text>
<line x1="286.60" y1="193.00" x2="286.60" y2="310.60" stroke="#1a1a1a" stroke-width="0.95"/>
<line x1="286.15" y1="310.20" x2="431.80" y2="310.20" stroke="#1a1a1a" stroke-width="0.95"/>
<line x1="286.60" y1="310.20" x2="289.00" y2="310.20" stroke="#1a1a1a" stroke-width="0.6"/>
<text x="284.20" y="312.60" text-anchor="end" class="tk" font-size="5.9" textLength="2.55" lengthAdjust="spacingAndGlyphs">0</text>
<line x1="286.60" y1="302.43" x2="288.00" y2="302.43" stroke="#1a1a1a" stroke-width="0.6"/>
<line x1="286.60" y1="294.65" x2="289.00" y2="294.65" stroke="#1a1a1a" stroke-width="0.6"/>
<text x="284.20" y="297.05" text-anchor="end" class="tk" font-size="5.9" textLength="5.10" lengthAdjust="spacingAndGlyphs">10</text>
<line x1="286.60" y1="286.88" x2="288.00" y2="286.88" stroke="#1a1a1a" stroke-width="0.6"/>
<line x1="286.60" y1="279.10" x2="289.00" y2="279.10" stroke="#1a1a1a" stroke-width="0.6"/>
<text x="284.20" y="281.50" text-anchor="end" class="tk" font-size="5.9" textLength="5.10" lengthAdjust="spacingAndGlyphs">20</text>
<line x1="286.60" y1="271.32" x2="288.00" y2="271.32" stroke="#1a1a1a" stroke-width="0.6"/>
<line x1="286.60" y1="263.55" x2="289.00" y2="263.55" stroke="#1a1a1a" stroke-width="0.6"/>
<text x="284.20" y="265.95" text-anchor="end" class="tk" font-size="5.9" textLength="5.10" lengthAdjust="spacingAndGlyphs">30</text>
<line x1="286.60" y1="255.77" x2="288.00" y2="255.77" stroke="#1a1a1a" stroke-width="0.6"/>
<line x1="286.60" y1="248.00" x2="289.00" y2="248.00" stroke="#1a1a1a" stroke-width="0.6"/>
<text x="284.20" y="250.40" text-anchor="end" class="tk" font-size="5.9" textLength="5.10" lengthAdjust="spacingAndGlyphs">40</text>
<line x1="286.60" y1="240.22" x2="288.00" y2="240.22" stroke="#1a1a1a" stroke-width="0.6"/>
<line x1="286.60" y1="232.45" x2="289.00" y2="232.45" stroke="#1a1a1a" stroke-width="0.6"/>
<text x="284.20" y="234.85" text-anchor="end" class="tk" font-size="5.9" textLength="5.10" lengthAdjust="spacingAndGlyphs">50</text>
<line x1="286.60" y1="224.68" x2="288.00" y2="224.68" stroke="#1a1a1a" stroke-width="0.6"/>
<line x1="286.60" y1="216.90" x2="289.00" y2="216.90" stroke="#1a1a1a" stroke-width="0.6"/>
<text x="284.20" y="219.30" text-anchor="end" class="tk" font-size="5.9" textLength="5.10" lengthAdjust="spacingAndGlyphs">60</text>
<line x1="286.60" y1="209.12" x2="288.00" y2="209.12" stroke="#1a1a1a" stroke-width="0.6"/>
<line x1="286.60" y1="201.35" x2="289.00" y2="201.35" stroke="#1a1a1a" stroke-width="0.6"/>
<text x="284.20" y="203.75" text-anchor="end" class="tk" font-size="5.9" textLength="5.10" lengthAdjust="spacingAndGlyphs">70</text>
<line x1="286.60" y1="193.57" x2="288.00" y2="193.57" stroke="#1a1a1a" stroke-width="0.6"/>
<line x1="286.60" y1="310.20" x2="286.60" y2="307.80" stroke="#1a1a1a" stroke-width="0.6"/>
<text x="280.90" y="316.50" class="tk" font-size="5.90" textLength="11.4" lengthAdjust="spacingAndGlyphs">0.000</text>
<line x1="302.62" y1="310.20" x2="302.62" y2="308.80" stroke="#1a1a1a" stroke-width="0.6"/>
<line x1="318.65" y1="310.20" x2="318.65" y2="307.80" stroke="#1a1a1a" stroke-width="0.6"/>
<text x="312.95" y="316.50" class="tk" font-size="5.90" textLength="11.4" lengthAdjust="spacingAndGlyphs">0.001</text>
<line x1="334.68" y1="310.20" x2="334.68" y2="308.80" stroke="#1a1a1a" stroke-width="0.6"/>
<line x1="350.70" y1="310.20" x2="350.70" y2="307.80" stroke="#1a1a1a" stroke-width="0.6"/>
<text x="345.00" y="316.50" class="tk" font-size="5.90" textLength="11.4" lengthAdjust="spacingAndGlyphs">0.002</text>
<line x1="366.73" y1="310.20" x2="366.73" y2="308.80" stroke="#1a1a1a" stroke-width="0.6"/>
<line x1="382.75" y1="310.20" x2="382.75" y2="307.80" stroke="#1a1a1a" stroke-width="0.6"/>
<text x="377.05" y="316.50" class="tk" font-size="5.90" textLength="11.4" lengthAdjust="spacingAndGlyphs">0.003</text>
<line x1="398.77" y1="310.20" x2="398.77" y2="308.80" stroke="#1a1a1a" stroke-width="0.6"/>
<line x1="414.80" y1="310.20" x2="414.80" y2="307.80" stroke="#1a1a1a" stroke-width="0.6"/>
<text x="409.10" y="316.50" class="tk" font-size="5.90" textLength="11.4" lengthAdjust="spacingAndGlyphs">0.004</text>
<line x1="430.83" y1="310.20" x2="430.83" y2="308.80" stroke="#1a1a1a" stroke-width="0.6"/>
<text transform="translate(277.50,251.80) rotate(-90)" x="-8.50" class="yl" font-size="6.2" textLength="17.00" lengthAdjust="spacingAndGlyphs">σ/MPa</text>
<text x="358.75" y="326.30" text-anchor="middle" class="tk" font-size="6.8">ε</text>
<polyline points="286.70,310.10 307.00,279.50 326.30,250.00 335.00,237.00 345.00,223.75 352.50,213.00 356.25,208.00 358.75,208.75 360.50,207.50 363.75,205.50 367.50,209.00 372.50,215.50 378.75,212.00 383.00,209.25 386.25,212.00 391.25,210.00 395.00,211.25 401.25,208.25 405.00,211.25 408.75,215.00 412.50,212.50 415.50,212.00" fill="none" stroke="#a2a2a2" stroke-width="0.65" stroke-linejoin="round"/>
<polyline points="287.30,309.30 336.25,253.00 345.00,242.50 357.50,230.00 370.00,217.50 377.50,207.50 379.50,213.75 382.50,227.50 384.25,234.25 388.75,231.25 395.00,229.25 400.00,227.50 403.00,230.00 404.10,242.50 404.80,257.00 405.90,276.60 407.50,277.00 415.30,275.70" fill="none" stroke="#ff9a9a" stroke-width="0.65" stroke-linejoin="round"/>
<polyline points="286.70,310.10 307.50,295.00 325.00,280.00 335.75,270.00 342.50,266.25 350.00,260.00 357.50,255.00 363.50,250.50 368.00,254.50 375.00,253.50 383.75,250.50 386.90,250.70 390.30,255.20 393.80,252.90 397.20,251.20 399.80,250.70 402.40,253.80 405.00,256.90 408.40,257.20 415.30,256.70" fill="none" stroke="#80b2fa" stroke-width="0.65" stroke-linejoin="round"/>
<polyline points="286.70,310.10 335.50,282.00 383.75,255.75 390.30,252.90 397.20,250.70 398.10,253.80 400.70,264.10 403.30,268.40 407.60,267.60 415.30,266.20" fill="none" stroke="#93d9b0" stroke-width="0.65" stroke-linejoin="round"/>
<polyline points="286.70,310.10 335.50,288.00 383.75,267.50 392.50,265.00 397.20,262.80 398.10,264.10 400.70,270.20 402.40,277.10 405.90,277.60 415.30,276.20" fill="none" stroke="#d8b4f7" stroke-width="0.65" stroke-linejoin="round"/>
<rect x="333.73" y="235.72" width="2.55" height="2.55" fill="#2a2a2a"/>
<rect x="381.73" y="207.97" width="2.55" height="2.55" fill="#2a2a2a"/>
<circle cx="288.20" cy="307.90" r="1.65" fill="#f01c1c"/>
<circle cx="336.25" cy="252.75" r="1.65" fill="#f01c1c"/>
<circle cx="384.25" cy="234.25" r="1.65" fill="#f01c1c"/>
<polygon points="335.75,268.40 337.55,271.64 333.95,271.64" fill="#1f5fe6"/>
<polygon points="383.75,248.90 385.55,252.14 381.95,252.14" fill="#1f5fe6"/>
<polygon points="335.50,284.00 337.30,280.76 333.70,280.76" fill="#12a04e"/>
<polygon points="383.75,257.70 385.55,254.46 381.95,254.46" fill="#12a04e"/>
<polygon points="286.70,308.23 288.57,310.10 286.70,311.98 284.82,310.10" fill="#9a4ff0"/>
<polygon points="335.50,286.12 337.38,288.00 335.50,289.88 333.62,288.00" fill="#9a4ff0"/>
<polygon points="383.75,265.62 385.62,267.50 383.75,269.38 381.88,267.50" fill="#9a4ff0"/>
<rect x="416.00" y="176.25" width="38.50" height="38.15" fill="#fff" stroke="#bdbdbd" stroke-width="0.6"/>
<line x1="417.00" y1="180.50" x2="428.00" y2="180.50" stroke="#a2a2a2" stroke-width="0.65" stroke-opacity="0.6"/>
<rect x="421.68" y="179.18" width="2.63" height="2.63" fill="#2a2a2a"/>
<text x="431.00" y="182.30" class="lg" font-size="6.5" textLength="23.20" lengthAdjust="spacingAndGlyphs">l=100mm</text>
<line x1="417.00" y1="188.10" x2="428.00" y2="188.10" stroke="#ff9a9a" stroke-width="0.65" stroke-opacity="0.6"/>
<circle cx="423.00" cy="188.10" r="1.71" fill="#f01c1c"/>
<text x="431.00" y="189.90" class="lg" font-size="6.5" textLength="23.20" lengthAdjust="spacingAndGlyphs">l=200mm</text>
<line x1="417.00" y1="195.50" x2="428.00" y2="195.50" stroke="#80b2fa" stroke-width="0.65" stroke-opacity="0.6"/>
<polygon points="423.00,193.64 424.86,196.99 421.14,196.99" fill="#1f5fe6"/>
<text x="431.00" y="197.30" class="lg" font-size="6.5" textLength="23.20" lengthAdjust="spacingAndGlyphs">l=300mm</text>
<line x1="417.00" y1="203.10" x2="428.00" y2="203.10" stroke="#93d9b0" stroke-width="0.65" stroke-opacity="0.6"/>
<polygon points="423.00,204.96 424.86,201.61 421.14,201.61" fill="#12a04e"/>
<text x="431.00" y="204.90" class="lg" font-size="6.5" textLength="23.20" lengthAdjust="spacingAndGlyphs">l=400mm</text>
<line x1="417.00" y1="210.70" x2="428.00" y2="210.70" stroke="#d8b4f7" stroke-width="0.65" stroke-opacity="0.6"/>
<polygon points="423.00,208.76 424.94,210.70 423.00,212.64 421.06,210.70" fill="#9a4ff0"/>
<text x="431.00" y="212.50" class="lg" font-size="6.5" textLength="23.20" lengthAdjust="spacingAndGlyphs">l=500mm</text>
<text x="327.32" y="341.70" class="cap" font-weight="bold" style="fill:#111;stroke:#111;stroke-width:0.30px" textLength="13.52" lengthAdjust="spacingAndGlyphs">(e)</text>
<text x="344.00" y="341.70" class="cap" font-style="italic" style="fill:#111;stroke:#111;stroke-width:0.15px" textLength="19.16" lengthAdjust="spacingAndGlyphs">JRC</text>
<text x="367.34" y="343.20" class="cap"  style="fill:#b4b4b4;stroke:#b4b4b4;stroke-width:1.35px" textLength="5.32" lengthAdjust="spacingAndGlyphs">=</text>
<text x="375.98" y="341.70" class="cap"  style="fill:#111;stroke:#111;stroke-width:0.21px" textLength="14.68" lengthAdjust="spacingAndGlyphs">5.6</text>
</svg>
</body></html>
